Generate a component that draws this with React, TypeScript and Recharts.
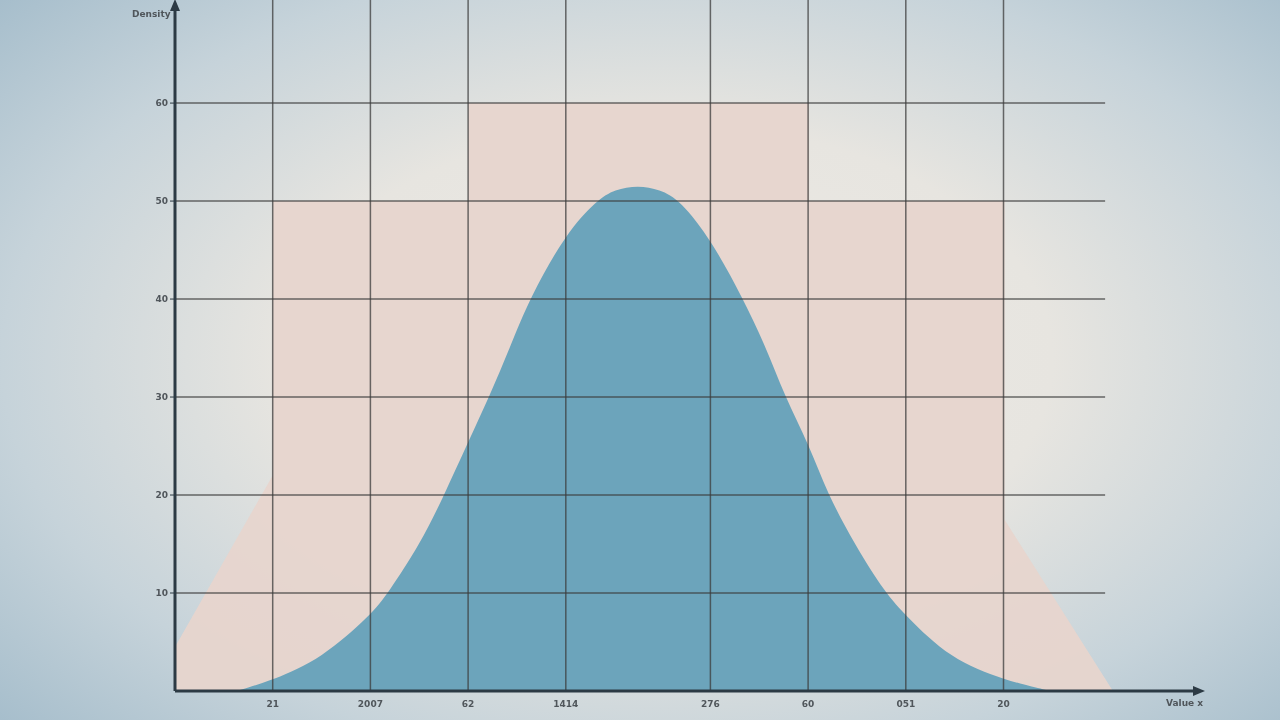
import {
  Area,
  ComposedChart,
  ReferenceDot,
  ReferenceLine,
  XAxis,
  YAxis,
} from "recharts";

// bell curve (blue)
const bellX = [0.63, 1.0, 1.5, 2.01, 2.18, 2.51, 2.76, 3.0, 3.22, 3.43, 3.63, 4.0, 4.32, 4.5, 4.74, 4.96, 5.17, 5.49, 5.81, 6.04, 6.24, 6.49, 6.68, 6.96, 7.27, 7.48, 7.93, 8.49, 8.96];
const bellY = [0, 0.11, 0.33, 0.78, 1.0, 1.5, 2.01, 2.54, 3.01, 3.51, 4.01, 4.67, 5.01, 5.12, 5.16, 5.12, 5.01, 4.6, 4.01, 3.53, 3.01, 2.51, 2.01, 1.49, 1.0, 0.77, 0.33, 0.11, 0];

// stepped pink band behind the curve
const bandX = [0, 1, 1, 3, 3, 6.49, 6.49, 8.49, 8.49, 9.6];
const bandY = [0.45, 2.2, 5, 5, 6, 6, 5, 5, 1.75, 0];

const xTicks = [1, 2, 3, 4, 5.48, 6.48, 7.48, 8.48];
const xLabels = ["21", "2007", "62", "1414", "276", "60", "051", "20"];
const yTicks = [1, 2, 3, 4, 5, 6];
const yLabels = ["10", "20", "30", "40", "50", "60"];

const X_MAX = 10.44;
const GRID_END = 9.52;
const Y_MAX = 6.95;
const Y_TOP = 7.06;

const rows: Array<{ x: number; band?: number; bell?: number }> = [];
bandX.forEach((x, i) => rows.push({ x, band: bandY[i] }));
bellX.forEach((x, i) => rows.push({ x, bell: bellY[i] }));
rows.sort((a, b) => a.x - b.x);

const axisColor = "#2c3a44";
const gridColor = "rgba(60,60,60,0.75)";
const tickStyle = { fontSize: 9, fill: "#50565b", fontFamily: "DejaVu Sans", fontWeight: 700 };

const upArrow = (p: any) => (
  <path d={`M${p.cx},${p.cy - 11} L${p.cx - 5},${p.cy + 1} L${p.cx + 5},${p.cy + 1} Z`} fill={axisColor} />
);
const rightArrow = (p: any) => (
  <path d={`M${p.cx + 10},${p.cy} L${p.cx - 2},${p.cy - 5} L${p.cx - 2},${p.cy + 5} Z`} fill={axisColor} />
);

export default function App() {
  return (
    <div
      style={{
        position: "fixed",
        inset: 0,
        width: 1280,
        height: 720,
        background:
          "radial-gradient(ellipse 72% 78% at 52% 50%, #edeae5 0%, #e7e5e0 42%, #c6d3da 72%, #a2bbca 100%)",
        fontFamily: "DejaVu Sans",
      }}
    >
      <ComposedChart
        width={1280}
        height={720}
        data={rows}
        margin={{ top: 10, right: 85, bottom: 0, left: 0 }}
      >
        <XAxis
          dataKey="x"
          type="number"
          domain={[0, X_MAX]}
          ticks={xTicks}
          tickFormatter={(v: number) => xLabels[xTicks.indexOf(v)] ?? ""}
          tickLine={false}
          axisLine={{ stroke: axisColor, strokeWidth: 3 }}
          tick={tickStyle}
          height={29}
          tickMargin={4}
        />
        <YAxis
          type="number"
          domain={[0, Y_MAX]}
          ticks={yTicks}
          tickFormatter={(v: number) => yLabels[yTicks.indexOf(v)] ?? ""}
          tickSize={5}
          tickLine={{ stroke: axisColor }}
          axisLine={{ stroke: axisColor, strokeWidth: 3 }}
          tick={tickStyle}
          width={175}
        />
        <Area
          dataKey="band"
          type="linear"
          connectNulls
          stroke="none"
          fill="#e7d5cd"
          fillOpacity={0.95}
          isAnimationActive={false}
        />
        <Area
          dataKey="bell"
          type="basis"
          connectNulls
          stroke="none"
          fill="#6ca4bb"
          fillOpacity={1}
          isAnimationActive={false}
        />
        {xTicks.map((v) => (
          <ReferenceLine
            key={`v${v}`}
            segment={[
              { x: v, y: 0 },
              { x: v, y: Y_TOP },
            ]}
            ifOverflow="visible"
            stroke={gridColor}
            strokeWidth={1.5}
          />
        ))}
        {yTicks.map((v) => (
          <ReferenceLine
            key={`h${v}`}
            segment={[
              { x: 0, y: v },
              { x: GRID_END, y: v },
            ]}
            stroke={gridColor}
            strokeWidth={1.5}
          />
        ))}
        <ReferenceDot x={0} y={Y_MAX} r={0} shape={upArrow} ifOverflow="visible" />
        <ReferenceDot x={X_MAX} y={0} r={0} shape={rightArrow} ifOverflow="visible" />
      </ComposedChart>
      <div style={{ position: "absolute", left: 132, top: 9, fontSize: 9, fontWeight: 700, color: "#50565b" }}>
        Density
      </div>
      <div style={{ position: "absolute", left: 1166, top: 698, fontSize: 9, fontWeight: 700, color: "#50565b" }}>
        Value x
      </div>
    </div>
  );
}
